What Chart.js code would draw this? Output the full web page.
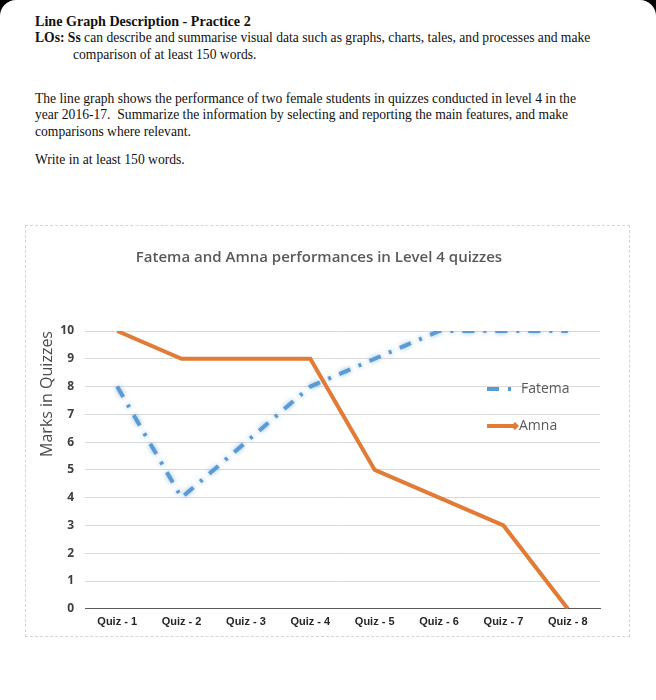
<!DOCTYPE html>
<html>
<head>
<meta charset="utf-8">
<script src="https://cdn.jsdelivr.net/npm/chart.js@4.4.1/dist/chart.umd.min.js"></script>
<style>
  body { margin: 0; background: #000; }
  #page {
    position: relative; width: 656px; height: 700px; background: #fff;
    border-radius: 16px 16px 0 0; overflow: hidden;
    font-family: "Liberation Serif", "Times New Roman", serif; color: #111;
  }
  .ln { position: absolute; left: 35px; font-size: 13.6px; line-height: 16px; white-space: nowrap; }
  #chartBox {
    position: absolute; left: 25px; top: 225px; width: 605px; height: 412px;
    border: 1px dashed #d6d6d6; box-sizing: border-box;
  }
</style>
</head>
<body>
<div id="page">
  <div class="ln" style="top:13px; font-size:14.1px"><b>Line Graph Description - Practice 2</b></div>
  <div class="ln" style="top:30px"><b>LOs: Ss</b> can describe and summarise visual data such as graphs, charts, tales, and processes and make</div>
  <div class="ln" style="top:47px; left:73px">comparison of at least 150 words.</div>
  <div class="ln" style="top:91px">The line graph shows the performance of two female students in quizzes conducted in level 4 in the</div>
  <div class="ln" style="top:107px">year 2016-17.&nbsp; Summarize the information by selecting and reporting the main features, and make</div>
  <div class="ln" style="top:124px">comparisons where relevant.</div>
  <div class="ln" style="top:152px">Write in at least 150 words.</div>

  <div id="chartBox"><canvas id="quizChart"></canvas></div>
</div>

<script>
// chart data
const quizLabels = ['Quiz - 1', 'Quiz - 2', 'Quiz - 3', 'Quiz - 4', 'Quiz - 5', 'Quiz - 6', 'Quiz - 7', 'Quiz - 8'];
const fatemaMarks = [8, 4, 6, 8, 9, 10, 10, 10];
const amnaMarks = [10, 9, 9, 9, 5, 4, 3, 0];
const yMin = 0;
const yMax = 10;

const blue = '#5B9BD5';
const orange = '#E27B35';
const fatemaDash = [12, 9, 3, 9];

// soft glow on the blue line, like the blurry screenshot
const glowPlugin = {
    id: 'glow',
    beforeDatasetDraw(chart, args) {
        if (args.index === 0) {
            chart.ctx.save();
            chart.ctx.shadowColor = 'rgba(91,155,213,0.7)';
            chart.ctx.shadowBlur = 5;
        }
    },
    afterDatasetDraw(chart, args) {
        if (args.index === 0) chart.ctx.restore();
    }
};

// legend drawn inside the plot, on the right
const sideLegend = {
    id: 'sideLegend',
    afterDatasetsDraw(chart) {
        const ctx = chart.ctx;
        const area = chart.chartArea;
        const x0 = area.right - 113;
        const rows = [area.top + 58, area.top + 95];
        ctx.save();
        ctx.font = '14px "Open Sans", sans-serif';
        ctx.fillStyle = '#595959';
        ctx.textBaseline = 'middle';

        // Fatema
        ctx.strokeStyle = blue;
        ctx.lineWidth = 4;
        ctx.setLineDash(fatemaDash);
        ctx.beginPath();
        ctx.moveTo(x0, rows[0]);
        ctx.lineTo(x0 + 26, rows[0]);
        ctx.stroke();
        ctx.setLineDash([]);
        ctx.fillText(chart.data.datasets[0].label, x0 + 34, rows[0]);

        // Amna
        ctx.strokeStyle = orange;
        ctx.beginPath();
        ctx.moveTo(x0, rows[1]);
        ctx.lineTo(x0 + 28, rows[1]);
        ctx.stroke();
        ctx.fillStyle = orange;
        ctx.beginPath();
        ctx.moveTo(x0 + 28, rows[1] - 4);
        ctx.lineTo(x0 + 32, rows[1]);
        ctx.lineTo(x0 + 28, rows[1] + 4);
        ctx.lineTo(x0 + 24, rows[1]);
        ctx.closePath();
        ctx.fill();
        ctx.fillStyle = '#595959';
        ctx.fillText(chart.data.datasets[1].label, x0 + 32, rows[1]);
        ctx.restore();
    }
};

const ctx = document.getElementById('quizChart').getContext('2d');
new Chart(ctx, {
    type: 'line',
    data: {
        labels: quizLabels,
        datasets: [{
            label: 'Fatema',
            data: fatemaMarks,
            borderColor: blue,
            borderWidth: 4,
            borderDash: fatemaDash,
            pointRadius: 0,
            tension: 0,
            fill: false
        }, {
            label: 'Amna',
            data: amnaMarks,
            borderColor: orange,
            borderWidth: 4,
            pointRadius: 0,
            tension: 0,
            fill: false
        }]
    },
    options: {
        responsive: true,
        maintainAspectRatio: false,
        animation: false,
        layout: { padding: { left: 12, right: 29, top: 0, bottom: 0 } },
        scales: {
            x: {
                offset: true,
                grid: { display: false, drawTicks: false },
                border: { color: '#595959', width: 1 },
                ticks: {
                    color: '#262626',
                    padding: 7,
                    font: { family: '"Liberation Sans", sans-serif', size: 11, weight: 'bold' }
                }
            },
            y: {
                min: yMin,
                max: yMax,
                afterFit: scale => { scale.width = 47; },
                grid: { color: '#d9d9d9', drawTicks: false },
                border: { display: false },
                ticks: {
                    stepSize: 1,
                    padding: 11,
                    color: '#404040',
                    font: { family: '"Open Sans", sans-serif', size: 12, weight: 'bold' }
                },
                title: {
                    display: true,
                    text: 'Marks in Quizzes',
                    align: 'end',
                    color: '#4d4d4d',
                    padding: 0,
                    font: { family: '"Open Sans", sans-serif', size: 16 }
                }
            }
        },
        plugins: {
            legend: { display: false },
            tooltip: { enabled: false },
            title: {
                display: true,
                text: 'Fatema and Amna performances in Level 4 quizzes',
                color: '#595959',
                padding: { top: 23, bottom: 64 },
                font: { family: '"Open Sans", sans-serif', size: 15, weight: '600' }
            }
        }
    },
    plugins: [glowPlugin, sideLegend]
});
</script>
</body>
</html>
